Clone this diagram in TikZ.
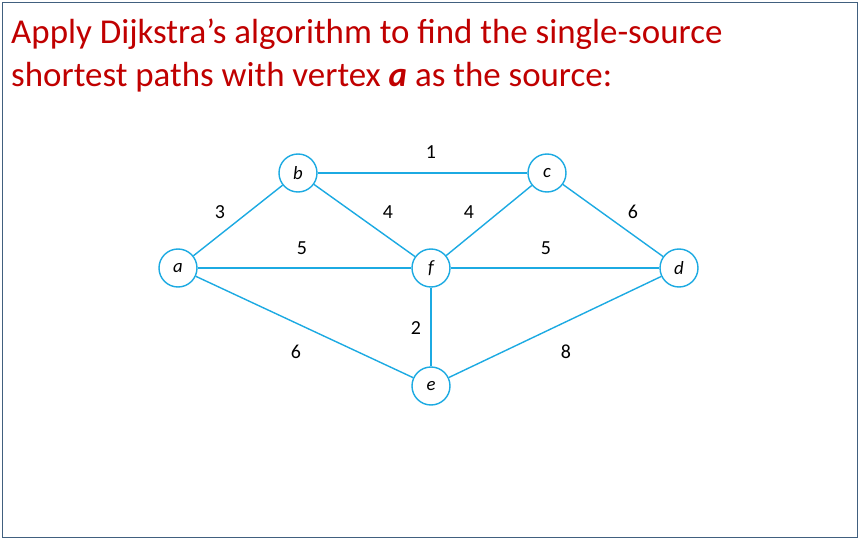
\documentclass[tikz,border=0pt]{standalone}
\usepackage{fontspec}
\setmainfont{Carlito}
\definecolor{edgec}{HTML}{1CAAE2}
\definecolor{titlec}{HTML}{C00000}
\definecolor{framec}{HTML}{41607F}
\begin{document}
\begin{tikzpicture}[x=0.03cm,y=-0.03cm,
  vert/.style={circle,draw=edgec,line width=1.2pt,fill=white,minimum size=38*0.03cm,inner sep=0pt,font=\fontsize{16}{16}\selectfont\itshape},
  edge/.style={draw=edgec,line width=1.2pt},
  wlab/.style={font=\fontsize{17}{17}\selectfont}]
\useasboundingbox (0,0) rectangle (860,540);
\draw[framec,line width=0.6pt] (2,2) rectangle (857,537);
\node[anchor=base west,text=titlec,font=\fontsize{29.8}{29.8}\selectfont,inner sep=0pt] (t1) at (11,44) {Apply Dijkstra’s algorithm to find the single-source};
\node[anchor=base west,text=titlec,font=\fontsize{29.8}{29.8}\selectfont,inner sep=0pt] (t2) at (11,87) {shortest paths with vertex \textbf{\textit{a}} as the source:};
\node[vert] (a) at (178,268) {a};
\node[vert] (b) at (298,173) {b};
\node[vert] (c) at (547,173) {c};
\node[vert] (d) at (679,268) {d};
\node[vert] (f) at (431,268) {f};
\node[vert] (e) at (431,386) {e};
\draw[edge] (a)--(b); \draw[edge] (b)--(c); \draw[edge] (b)--(f);
\draw[edge] (c)--(f); \draw[edge] (c)--(d); \draw[edge] (a)--(f);
\draw[edge] (f)--(d); \draw[edge] (f)--(e); \draw[edge] (a)--(e);
\draw[edge] (e)--(d);
\node[wlab] (l1) at (431,152) {1};
\node[wlab] (l2) at (220,212) {3};
\node[wlab] (l3) at (388,212) {4};
\node[wlab] (l4) at (469,212) {4};
\node[wlab] (l5) at (633,212) {6};
\node[wlab] (l6) at (302,248) {5};
\node[wlab] (l7) at (546,248) {5};
\node[wlab] (l8) at (416,328) {2};
\node[wlab] (l9) at (296,352) {6};
\node[wlab] (l10) at (566,352) {8};
\end{tikzpicture}
\end{document}
